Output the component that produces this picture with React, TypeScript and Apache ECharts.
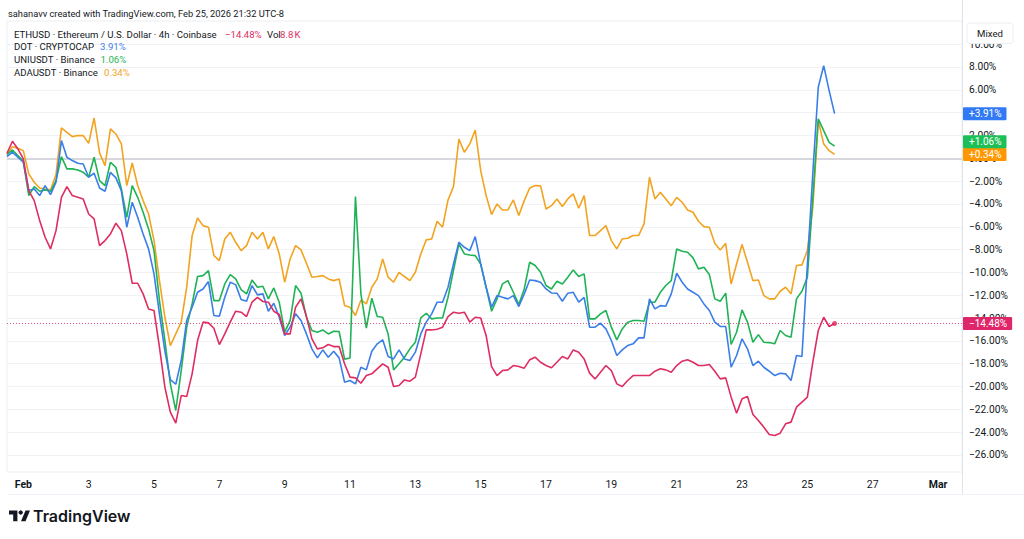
import React, { useEffect, useRef } from "react";
import * as echarts from "echarts";

const HEADER = "sahanavv created with TradingView.com, Feb 25, 2026 21:32 UTC-8";
const START_HOUR = -12; // first 4h bar: Jan 31 12:00 (hours from Feb 1 00:00)
const BAR_HOURS = 4;
const X_TICK_HOURS = [0, 48, 96, 144, 192, 240, 288, 336, 384, 432, 480, 528, 576, 624, 672];
const X_TICK_LABELS = ["Feb", "3", "5", "7", "9", "11", "13", "15", "17", "19", "21", "23", "25", "27", "Mar"];
const Y_TICKS = [-26, -24, -22, -20, -18, -16, -14, -12, -10, -8, -6, -4, -2, 0, 2, 4, 6, 8, 10];

const SERIES_NAMES = ["ADAUSDT", "UNIUSDT", "DOT", "ETHUSD"];
const SERIES_COLORS = ["#F2A31F", "#1FB356", "#3A7EE8", "#DE2D61"];
const LABEL_COLORS = ["#FF9800", "#1DBF58", "#3179F5", "#E0266A"];

const ethValues = [
  0.44, 1.49, 0.82, -0.06, -2.83, -3.71, -5.46, -6.92, -7.94, -6.34,
  -3.42, -2.48, -3.27, -3.42, -3.56, -4.88, -5.31, -7.65, -7.21, -6.63,
  -5.69, -6.34, -8.38, -10.95, -10.95, -11.88, -13.2, -13.34, -16.55, -20.06,
  -22.25, -23.2, -20.79, -20.88, -18.89, -15.97, -14.36, -14.42, -14.89, -16.32,
  -15.39, -14.36, -13.4, -13.49, -13.87, -12.61, -12.18, -12.55, -12.61, -13.4,
  -13.69, -15.39, -15.39, -13.05, -12.32, -13.87, -15.82, -16.7, -16.61, -16.32,
  -16.5, -16.5, -18.0, -19.18, -19.24, -19.71, -19.04, -18.89, -18.45, -18.01,
  -18.31, -20.0, -19.91, -19.42, -19.53, -19.18, -17.14, -15.04, -15.04, -14.98,
  -14.8, -13.87, -13.49, -13.58, -13.49, -14.36, -13.93, -13.99, -15.53, -18.25,
  -19.04, -18.6, -18.54, -18.16, -18.25, -18.39, -17.66, -17.43, -17.87, -18.16,
  -18.36, -17.87, -17.37, -17.58, -16.79, -16.99, -17.58, -18.83, -19.33, -18.74,
  -18.16, -18.6, -19.77, -20.0, -19.47, -19.04, -19.04, -19.04, -19.04, -18.66,
  -18.45, -18.54, -18.74, -18.16, -17.78, -17.66, -17.87, -18.16, -18.16, -18.07,
  -18.66, -19.33, -19.24, -20.93, -22.34, -21.08, -20.88, -22.45, -22.98, -23.56,
  -24.2, -24.29, -24.09, -23.27, -23.12, -21.81, -21.37, -20.93, -17.87, -15.09,
  -13.93, -14.74, -14.48,
];

const dotValues = [
  0.15, 0.53, 0.09, -0.35, -2.83, -2.69, -3.27, -2.39, -3.18, -2.1,
  1.55, 0.09, -0.2, -0.44, -0.5, -1.66, -1.31, -2.6, -2.89, -1.23,
  -1.72, -2.83, -6.04, -3.85, -5.17, -6.63, -7.94, -10.13, -13.63, -16.9,
  -19.4, -19.8, -17.72, -14.22, -13.05, -11.74, -11.45, -10.8, -13.78, -13.84,
  -12.18, -10.86, -11.07, -12.38, -12.53, -11.15, -11.97, -11.88, -13.4, -12.7,
  -13.93, -15.53, -14.8, -13.63, -14.22, -15.39, -16.7, -17.49, -16.79, -17.43,
  -16.91, -17.49, -19.62, -19.47, -19.77, -18.31, -18.54, -16.91, -16.26, -15.91,
  -17.37, -17.58, -16.79, -17.58, -17.72, -16.99, -15.39, -14.36, -13.63, -12.61,
  -12.61, -11.3, -9.26, -7.36, -7.8, -8.09, -6.86, -9.26, -11.3, -13.05,
  -12.03, -12.18, -12.32, -12.03, -12.99, -11.88, -10.66, -10.72, -10.86, -11.45,
  -11.8, -11.82, -12.53, -11.82, -11.74, -12.61, -12.18, -14.8, -14.8, -14.45,
  -14.95, -15.97, -17.28, -16.79, -16.41, -16.26, -15.74, -15.74, -12.32, -13.2,
  -12.91, -12.96, -11.88, -10.07, -10.86, -11.45, -11.74, -12.03, -12.76, -13.34,
  -14.36, -14.74, -14.74, -18.31, -17.28, -15.82, -16.7, -18.16, -17.78, -18.31,
  -18.66, -19.04, -18.83, -18.89, -19.47, -17.28, -17.37, -9.34, -1.31, 6.22,
  8.12, 5.93, 3.91,
];

const uniValues = [
  0.32, 0.73, 0.23, -0.26, -3.27, -2.48, -2.89, -2.77, -2.89, -1.96,
  0.15, -0.93, -0.93, -1.02, -1.23, -1.66, 0.09, -1.96, -2.39, -0.35,
  -0.79, -2.69, -5.17, -2.39, -3.42, -4.73, -6.19, -8.09, -12.47, -15.97,
  -19.77, -22.1, -18.6, -14.8, -12.76, -10.36, -10.28, -9.84, -12.47, -12.47,
  -11.01, -10.19, -10.57, -11.5, -11.88, -10.66, -11.3, -11.21, -12.32, -11.36,
  -12.61, -15.24, -14.22, -11.15, -11.82, -13.93, -15.09, -15.24, -15.04, -15.39,
  -15.15, -15.18, -17.6, -17.5, -3.36, -11.88, -14.89, -12.26, -13.87, -13.93,
  -15.39, -18.54, -18.01, -17.43, -16.7, -16.12, -13.99, -13.58, -14.07, -13.99,
  -13.99, -12.18, -9.84, -7.5, -8.38, -8.47, -8.53, -9.26, -11.3, -13.4,
  -12.32, -11.01, -10.72, -11.74, -12.82, -11.45, -9.11, -9.4, -9.99, -11.15,
  -11.45, -10.77, -11.01, -10.42, -9.78, -10.36, -10.13, -14.07, -14.07, -13.63,
  -13.34, -14.8, -15.91, -14.95, -14.36, -14.22, -14.22, -14.28, -12.61, -12.61,
  -11.74, -11.15, -10.72, -7.94, -8.15, -8.23, -8.73, -9.69, -9.55, -10.19,
  -12.32, -12.53, -11.82, -16.32, -15.24, -13.28, -14.36, -16.12, -15.45, -16.12,
  -16.15, -16.26, -15.09, -15.53, -15.68, -12.32, -11.65, -10.42, -3.5, 3.45,
  2.42, 1.4, 1.06,
];

const adaValues = [
  0.38, 1.02, 0.88, 0.67, -1.37, -2.1, -2.6, -2.69, -2.77, -1.43,
  2.66, 2.28, 1.9, 1.99, 1.99, 1.31, 3.53, 0.47, -0.64, 2.57,
  2.13, 1.26, -2.39, -0.41, -2.39, -3.71, -4.88, -7.21, -10.72, -13.93,
  -16.41, -15.39, -14.36, -11.3, -6.77, -5.23, -5.9, -6.04, -8.53, -8.96,
  -7.07, -6.48, -7.36, -8.09, -7.65, -6.48, -7.07, -6.48, -7.94, -6.86,
  -8.38, -10.86, -8.82, -7.65, -8.03, -9.2, -10.42, -10.36, -10.28, -10.57,
  -10.72, -10.57, -12.9, -13.05, -13.78, -12.41, -12.76, -11.3, -10.57, -8.82,
  -10.42, -10.86, -9.99, -10.36, -10.72, -9.99, -8.38, -7.15, -7.07, -5.52,
  -6.04, -3.65, -2.48, 1.69, 0.53, 1.26, 2.48, -1.08, -3.27, -4.93,
  -4.0, -4.53, -4.53, -3.65, -5.02, -3.71, -2.6, -2.39, -2.42, -4.44,
  -4.15, -3.56, -4.23, -3.56, -3.12, -4.38, -3.27, -6.77, -6.77, -6.34,
  -5.9, -7.21, -7.94, -7.07, -7.01, -6.77, -6.77, -5.75, -1.66, -3.56,
  -2.98, -3.56, -4.15, -3.42, -3.85, -4.53, -4.73, -5.52, -5.99, -6.04,
  -7.45, -8.03, -7.45, -11.01, -9.26, -7.56, -9.11, -10.72, -10.66, -12.03,
  -12.32, -12.32, -11.65, -11.3, -11.88, -9.4, -9.34, -8.09, -4.3, 3.3,
  1.26, 0.67, 0.34,
];

const ALL_VALUES = [adaValues, uniValues, dotValues, ethValues];

const W = 1024;
const H = 539;
const GRID = { left: 7, right: 62, top: 21, bottom: 67 };
const X_MIN = -12;
const X_MAX = 689.6;
const Y_MIN = -27.49;
const Y_MAX = 12.03;
const FONT = "Roboto, 'Noto Sans', sans-serif";
const TEXT = "#131722";

const fmtPct = (v: number) => (v < 0 ? "\u2212" : "") + Math.abs(v).toFixed(2) + "%";
const fmtSigned = (v: number) => (v < 0 ? "\u2212" : "+") + Math.abs(v).toFixed(2) + "%";

function toPairs(values: number[]) {
  return values.map((v, i) => [START_HOUR + i * BAR_HOURS, v]);
}

function staticGraphics(): any[] {
  const plotRight = W - GRID.right;
  const plotBottom = H - GRID.bottom;
  const t = (id: string, x: number, y: number, text: string, fill: string, extra: any = {}) => ({
    type: "text",
    id,
    x,
    y,
    z: 100,
    silent: true,
    style: { text, fill, fontSize: 9.6, fontFamily: FONT, verticalAlign: "middle", ...extra },
  });
  const lines = [
    { id: "vsep", shape: { x1: plotRight + 0.5, y1: 0, x2: plotRight + 0.5, y2: plotBottom + 22 }, color: "#e0e3eb" },
    { id: "hbot", shape: { x1: GRID.left, y1: plotBottom + 22.5, x2: W, y2: plotBottom + 22.5 }, color: "#f0f3fa" },
  ].map((l) => ({
    type: "line",
    id: l.id,
    z: 90,
    silent: true,
    shape: l.shape,
    style: { stroke: l.color, lineWidth: 1 },
  }));
  return [
    ...lines,
    t("hdr", 8, 13, HEADER, TEXT, { fontSize: 9.3 }),
    t("l1", 14, 34, "ETHUSD \u00b7 Ethereum / U.S. Dollar \u00b7 4h \u00b7 Coinbase", TEXT),
    t("l1v", 225, 34, fmtPct(ethValues[ethValues.length - 1]), SERIES_COLORS[3]),
    t("l1vol", 267, 34, "Vol", TEXT),
    t("l1volv", 280, 34, "8.8\u202fK", SERIES_COLORS[3]),
    t("l2", 14, 46.5, "DOT \u00b7 CRYPTOCAP", TEXT),
    t("l2v", 100, 46.5, fmtPct(dotValues[dotValues.length - 1]), SERIES_COLORS[2]),
    t("l3", 14, 59, "UNIUSDT \u00b7 Binance", TEXT),
    t("l3v", 100.5, 59, fmtPct(uniValues[uniValues.length - 1]), SERIES_COLORS[1]),
    t("l4", 14, 72, "ADAUSDT \u00b7 Binance", TEXT),
    t("l4v", 104, 72, fmtPct(adaValues[adaValues.length - 1]), SERIES_COLORS[0]),
    {
      type: "rect",
      id: "mixedBox",
      z: 100,
      silent: true,
      shape: { x: 967, y: 23, width: 46, height: 20.5, r: 3 },
      style: { fill: "#ffffff", stroke: "#eceef2", lineWidth: 1 },
    },
    t("mixed", 990, 33, "Mixed", TEXT, { align: "center" }),
    {
      type: "group",
      id: "logoMark",
      x: 9,
      y: 508,
      scaleX: 0.6,
      scaleY: 0.6,
      z: 100,
      silent: true,
      children: [
        { type: "polygon", shape: { points: [[0, 4], [14, 4], [14, 22], [7, 22], [7, 11], [0, 11]] }, style: { fill: TEXT } },
        { type: "circle", shape: { cx: 19.5, cy: 7.5, r: 3.6 }, style: { fill: TEXT } },
        { type: "polygon", shape: { points: [[20, 22], [27.5, 4], [35, 4], [27.5, 22]] }, style: { fill: TEXT } },
      ],
    },
    {
      type: "text",
      id: "logoText",
      x: 33,
      y: 516,
      z: 100,
      silent: true,
      style: { text: "TradingView", fill: TEXT, fontSize: 16, fontWeight: 600, fontFamily: "Inter, Roboto, sans-serif", verticalAlign: "middle" },
    },
  ];
}

export default function App() {
  const ref = useRef<HTMLDivElement>(null);

  useEffect(() => {
    if (!ref.current) return;
    const chart = echarts.init(ref.current, null, { renderer: "svg", width: W, height: H });

    const series: any[] = SERIES_NAMES.map((name, i) => ({
      name,
      type: "line",
      data: toPairs(ALL_VALUES[i]),
      showSymbol: false,
      symbol: "none",
      lineStyle: { color: SERIES_COLORS[i], width: 1.6 },
      itemStyle: { color: SERIES_COLORS[i] },
      z: 3 + i,
      silent: true,
      clip: true,
    }));
    series[0].markLine = {
      silent: true,
      symbol: "none",
      label: { show: false },
      data: [{ yAxis: 0, lineStyle: { color: "#d6d8dd", width: 2, type: "solid" } }],
      z: 1,
    };
    series[3].markLine = {
      silent: true,
      symbol: "none",
      label: { show: false },
      data: [
        {
          yAxis: ethValues[ethValues.length - 1],
          lineStyle: { color: SERIES_COLORS[3], width: 1, type: [1, 2], opacity: 0.8 },
        },
      ],
    };
    const ethPairs = toPairs(ethValues);
    series.push({
      name: "ethLast",
      type: "scatter",
      data: [ethPairs[ethPairs.length - 1]],
      symbol: "circle",
      symbolSize: 5,
      itemStyle: { color: SERIES_COLORS[3] },
      z: 10,
      silent: true,
    });

    chart.setOption({
      animation: false,
      backgroundColor: "#ffffff",
      grid: { ...GRID, show: true, borderColor: "#eceef2", borderWidth: 1, backgroundColor: "transparent" },
      xAxis: {
        type: "value",
        min: X_MIN,
        max: X_MAX,
        axisLine: { show: false },
        axisTick: { show: false, customValues: X_TICK_HOURS },
        splitLine: { show: false },
        axisLabel: {
          customValues: X_TICK_HOURS,
          margin: 7,
          color: TEXT,
          fontSize: 10.5,
          fontFamily: FONT,
          formatter: (v: number) => {
            const idx = X_TICK_HOURS.indexOf(v);
            const s = idx >= 0 ? X_TICK_LABELS[idx] : "";
            return /^[A-Za-z]/.test(s) ? `{b|${s}}` : s;
          },
          rich: { b: { fontWeight: "bold", fontSize: 10.5, color: TEXT, fontFamily: FONT } },
        },
      },
      yAxis: {
        type: "value",
        position: "right",
        min: Y_MIN,
        max: Y_MAX,
        axisLine: { show: false },
        axisTick: { show: false, customValues: Y_TICKS },
        splitLine: { show: true, lineStyle: { color: "#f0f2f6", width: 1 } },
        axisLabel: {
          customValues: Y_TICKS,
          margin: 7,
          color: TEXT,
          fontSize: 10.2,
          fontFamily: FONT,
          formatter: (v: number) => fmtPct(v),
        },
      },
      series,
      graphic: staticGraphics(),
    });

    // Last-value badges on the price scale, positioned through the y axis scale
    const badges = SERIES_NAMES.map((name, i) => {
      const vals = ALL_VALUES[i];
      const v = vals[vals.length - 1];
      const py = (chart.convertToPixel({ gridIndex: 0 }, [0, v]) as number[])[1];
      return { i, v, py };
    }).sort((a, b) => b.py - a.py);
    let prev = Infinity;
    for (const b of badges) {
      b.py = Math.min(b.py, prev - 12.6);
      prev = b.py;
    }
    const badgeEls = badges.map((b) => ({
      type: "text",
      id: "badge" + b.i,
      x: W - GRID.right + 1,
      y: b.py,
      z: 110,
      silent: true,
      style: {
        text: fmtSigned(b.v),
        fill: "#ffffff",
        fontSize: 10,
        fontFamily: FONT,
        verticalAlign: "middle",
        backgroundColor: LABEL_COLORS[b.i],
        padding: [1, 5, 1, 6],
        lineHeight: 11,
        borderRadius: 1,
      },
    }));
    chart.setOption({ graphic: [...staticGraphics(), ...badgeEls] });

    return () => chart.dispose();
  }, []);

  return (
    <div
      ref={ref}
      style={{ position: "fixed", left: 0, top: 0, width: W, height: H, background: "#fff" }}
    />
  );
}
